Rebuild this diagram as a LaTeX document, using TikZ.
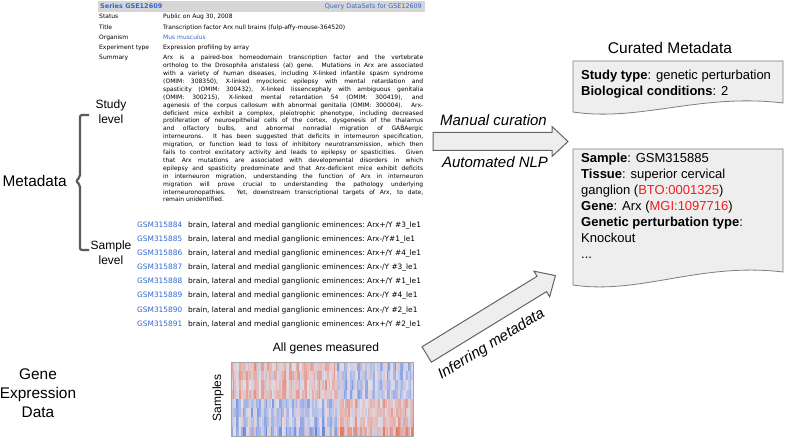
\documentclass[tikz,border=0pt]{standalone}
\usepackage{fontspec}
\setmainfont{Liberation Sans}
\newfontfamily\geofont{DejaVu Sans}
\usepackage{xcolor}
\usepackage{tikz}
\usetikzlibrary{positioning, calc}
\definecolor{geoBlue}{RGB}{51, 102, 204}
\definecolor{geoBar}{RGB}{214, 214, 214}
\definecolor{boxFill}{RGB}{238, 238, 238}
\definecolor{boxLine}{RGB}{125, 125, 125}
\definecolor{arrowLine}{RGB}{100, 100, 100}
\definecolor{curRed}{RGB}{238, 30, 30}
\definecolor{braceGray}{RGB}{90, 90, 90}
\definecolor{hmRed}{RGB}{232, 118, 92}
\definecolor{hmBlue}{RGB}{98, 134, 226}
\definecolor{hmMid}{RGB}{224, 221, 232}
\tikzset{
    geotext/.style={
        font=\geofont\fontsize{6}{7.9}\selectfont,
        inner sep=0pt,
        anchor=base west
    },
    geolink/.style={
        geotext,
        text=geoBlue
    },
    gsmrow/.style={
        font=\geofont\fontsize{7.4}{9}\selectfont,
        inner sep=0pt,
        anchor=base west
    },
    gsmid/.style={
        gsmrow,
        text=geoBlue
    },
    bigtitle/.style={
        font=\fontsize{15.4}{19}\selectfont,
        align=center,
        inner sep=0pt
    },
    levellabel/.style={
        font=\fontsize{12}{15}\selectfont,
        align=center,
        inner sep=0pt
    },
    flowlabel/.style={
        font=\itshape\fontsize{15}{18}\selectfont,
        inner sep=0pt
    },
    curated/.style={
        font=\fontsize{13}{16}\selectfont,
        align=left,
        inner sep=0pt,
        anchor=north west
    },
    docbox/.style={
        draw=boxLine,
        fill=boxFill,
        line width=0.8pt
    },
    blockarrow/.style={
        draw=arrowLine,
        fill=boxFill,
        line width=1pt
    }
}
\newcommand{\sumline}[1]{\makebox[260pt][s]{#1}}
\newcommand{\arrowpath}[1]{(0,-9) -- ({#1-16},-9) -- ({#1-16},-15) -- (#1,0) -- ({#1-16},15) -- ({#1-16},9) -- (0,9) -- cycle}
\def\gsmdesc{brain, lateral and medial ganglionic eminences:}

\begin{document}
\begin{tikzpicture}[x=1pt, y=-1pt]
  \useasboundingbox (0,0) rectangle (785,438);

  % GEO series record
  \fill[geoBar] (98,1) rectangle (425,12);
  \node[geolink, font=\geofont\bfseries\fontsize{6.5}{8}\selectfont] (series) at (100,8.3) {Series GSE12609};
  \node[geolink, anchor=base east, font=\geofont\fontsize{6.4}{8}\selectfont] (query) at (422,8.3) {Query DataSets for GSE12609};
  \node[geotext] (status) at (99,18.8) {Status};
  \node[geotext] (title) at (99,29.3) {Title};
  \node[geotext] (organism) at (99,39.8) {Organism};
  \node[geotext] (exptype) at (99,49.8) {Experiment type};
  \node[geotext] (summary) at (99,59.8) {Summary};
  \node[geotext] (statusval) at (163,18.8) {Public on Aug 30, 2008};
  \node[geotext] (titleval) at (163,29.3) {Transcription factor Arx null brains (fulp-affy-mouse-364520)};
  \node[geolink] (organismval) at (163,39.8) {Mus musculus};
  \node[geotext] (exptypeval) at (163,49.8) {Expression profiling by array};

  % Summary, justified line by line
  \foreach \ln [count=\i from 0] in {
      {Arx is a paired-box homeodomain transcription factor and the vertebrate},
      {ortholog to the Drosophila aristaless (al) gene. Mutations in Arx are associated},
      {with a variety of human diseases, including X-linked infantile spasm syndrome},
      {(OMIM: 308350), X-linked myoclonic epilepsy with mental retardation and},
      {spasticity (OMIM: 300432), X-linked lissencephaly with ambiguous genitalia},
      {(OMIM: 300215), X-linked mental retardation 54 (OMIM: 300419), and},
      {agenesis of the corpus callosum with abnormal genitalia (OMIM: 300004). Arx-},
      {deficient mice exhibit a complex, pleiotrophic phenotype, including decreased},
      {proliferation of neuroepithelial cells of the cortex, dysgenesis of the thalamus},
      {and olfactory bulbs, and abnormal nonradial migration of GABAergic},
      {interneurons. It has been suggested that deficits in interneuron specification,},
      {migration, or function lead to loss of inhibitory neurotransmission, which then},
      {fails to control excitatory activity and leads to epilepsy or spasticities. Given},
      {that Arx mutations are associated with developmental disorders in which},
      {epilepsy and spasticity predominate and that Arx-deficient mice exhibit deficits},
      {in interneuron migration, understanding the function of Arx in interneuron},
      {migration will prove crucial to understanding the pathology underlying},
      {interneuronopathies. Yet, downstream transcriptional targets of Arx, to date,}}
    \node[geotext] (sum\i) at (163,{59.8+7.9*\i}) {\sumline{\ln}};
  \node[geotext] (sum18) at (163,{59.8+7.9*18}) {remain unidentified.};

  % Samples
  \foreach \geno [count=\k from 0] in {
      {Arx+/Y \#3\_le1}, {Arx-/Y\#1\_le1}, {Arx+/Y \#4\_le1}, {Arx-/Y \#3\_le1},
      {Arx+/Y \#1\_le1}, {Arx-/Y \#4\_le1}, {Arx-/Y \#2\_le1}, {Arx+/Y \#2\_le1}}{
    \node[gsmid] (gsm\k) at (137,{227.5+14.1*\k}) {GSM\the\numexpr315884+\k\relax};
    \node[gsmrow] (desc\k) at (188,{227.5+14.1*\k}) {\gsmdesc\ \geno};
  }

  % Metadata bracket
  \draw[braceGray, line width=2.2pt, rounded corners=2pt]
    (89,115) -- (80,115) -- (80,177) -- (76,181) -- (80,185) -- (80,250) -- (89,250);
  \node[bigtitle, anchor=east] (metadata) at (67,181) {Metadata};
  \node[levellabel] (studylevel) at (111,112) {Study\\level};
  \node[levellabel] (samplelevel) at (111,253) {Sample\\level};

  % Gene expression
  \node[bigtitle] (geneexpr) at (38,393) {Gene\\Expression\\Data};
  \node[levellabel] (allgenes) at (326,348) {All genes measured};
  \node[levellabel, rotate=90] (samples) at (218,398) {Samples};

  % Heat map
  \def\hmX{231}
  \def\hmY{362}
  \def\hmW{1.6545}
  \def\hmH{9.25}
  \pgfmathsetseed{315885}
  \foreach \r in {0,...,7}{
    \foreach \c in {0,...,109}{
      \pgfmathsetmacro{\side}{ifthenelse(\c<64,1,-1)*ifthenelse(\r<4,1,-1)}
      \pgfmathsetmacro{\v}{(0.28*\side + 0.22*sin(\c*83) + 0.3*rand)*ifthenelse(\r==7,1.5,1)}
      \pgfmathtruncatemacro{\pct}{min(100,abs(\v)*100)}
      \ifdim\v pt<0pt \colorlet{cell}{hmBlue!\pct!hmMid}\else\colorlet{cell}{hmRed!\pct!hmMid}\fi
      \fill[cell] ({\hmX+\c*\hmW},{\hmY+\r*\hmH}) rectangle ++(\hmW+0.2,\hmH+0.2);
    }
  }
  \draw[gray!70] (231,362) rectangle (413,436);

  % Curated metadata
  \node[bigtitle, font=\fontsize{15.5}{19}\selectfont] (curtitle) at (670,48) {Curated Metadata};
  \draw[docbox] (573,61) -- (783,61) -- (783,103) .. controls (700,93) and (640,122) .. (573,112) -- cycle;
  \node[curated] (studybox) at (581,70.3) {\textbf{Study type}: genetic perturbation\\
    \textbf{Biological conditions}: 2};
  \draw[docbox] (573,149) -- (783,149) -- (783,272) .. controls (700,262) and (640,295) .. (573,285) -- cycle;
  \node[curated] (samplebox) at (581,153.3) {\textbf{Sample}: GSM315885\\
    \textbf{Tissue}: superior cervical\\
    ganglion (\textcolor{curRed}{BTO:0001325})\\
    \textbf{Gene}: Arx (\textcolor{curRed}{MGI:1097716})\\
    \textbf{Genetic perturbation type}:\\
    Knockout\\
    ...};

  % Curation arrows
  \begin{scope}[shift={(433,141.5)}]
    \draw[blockarrow] \arrowpath{135};
  \end{scope}
  \node[flowlabel] (manual) at (493.5,120) {Manual curation};
  \node[flowlabel] (nlp) at (495,162) {Automated NLP};

  \begin{scope}[shift={(426.7,354.5)}, rotate=31.5]
    \draw[blockarrow] \arrowpath{151};
    \node[flowlabel, rotate=31.5] (inferring) at (60.5,25.3) {Inferring metadata};
  \end{scope}
\end{tikzpicture}
\end{document}
